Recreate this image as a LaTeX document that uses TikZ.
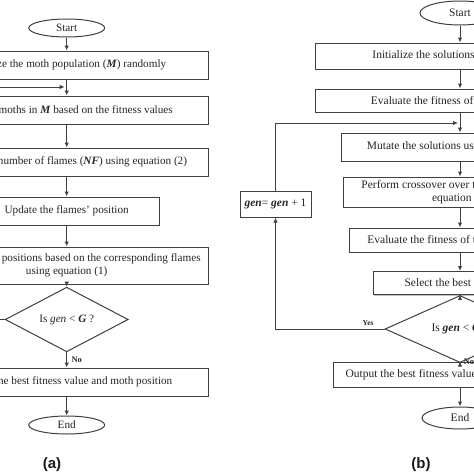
\documentclass[tikz,border=0pt]{standalone}
\usepackage{fontspec}
\setmainfont{Liberation Serif}
\newfontfamily\labfont{Liberation Sans}
\usetikzlibrary{arrows.meta,shapes.geometric,shadows}
\begin{document}
\begin{tikzpicture}[x=1pt,y=-1pt,
  line width=1pt,
  box/.style={rectangle,draw=black!75,fill=white,inner sep=1pt,align=center,
    font=\fontsize{11.2}{12.5}\selectfont,text=black!85,
    drop shadow={shadow xshift=1.2pt,shadow yshift=-1.2pt,fill=black!25,opacity=1}},
  term/.style={ellipse,draw=black!75,fill=white,inner sep=0pt,
    font=\fontsize{11.2}{12.5}\selectfont,text=black!85},
  dec/.style={diamond,draw=black!75,fill=white,inner sep=0pt,
    font=\fontsize{11.2}{12.5}\selectfont,text=black!85},
  bigf/.style={font=\fontsize{11.5}{13}\selectfont},
  arr/.style={draw=black!75,-{Latex[length=5pt,width=4.5pt]}},
  lbl/.style={font=\bfseries\fontsize{8.5}{9}\selectfont,text=black!85},
  captxt/.style={font=\labfont\bfseries\fontsize{15}{17}\selectfont,text=black!90}]
\useasboundingbox (0,0) rectangle (474,474);
\clip (0,0) rectangle (474,474);
% ---------------- (a) ----------------
\node[term,minimum width=76,minimum height=18] (aS) at (66.7,28) {Start};
\node[box,minimum width=282.6,minimum height=28] (a1) at (66.7,65) {Initialize the moth population (\textbf{\textit{M}}) randomly};
\node[box,minimum width=282.6,minimum height=28] (a2) at (66.7,110) {Sort the moths in \textbf{\textit{M}} based on the fitness values};
\node[box,minimum width=282.6,minimum height=28] (a3) at (66.7,162) {Update the number of flames (\textbf{\textit{NF}}) using equation (2)};
\node[box,minimum width=184.6,minimum height=28] (a4) at (66.7,211) {Update the flames' position};
\node[box,minimum width=282.6,minimum height=37] (a5) at (66.7,265.5) {Update moths' positions based on the corresponding flames\\using equation (1)};
\node[dec,minimum width=123,minimum height=39] (aD) at (66.7,319.5) {Is \textit{gen} < \textbf{\textit{G}} ?};
\node[box,minimum width=282.6,minimum height=28] (a6) at (66.7,382) {Output the best fitness value and moth position};
\node[term,minimum width=76,minimum height=18] (aE) at (66.7,425) {End};
\coordinate (aJ) at (66.7,87);
\coordinate (aL1) at (-90,319.5);
\coordinate (aL2) at (-90,87);
\draw[arr] (aS) -- (a1);
\draw[arr] (a1) -- (a2);
\draw[arr] (a2) -- (a3);
\draw[arr] (a3) -- (a4);
\draw[arr] (a4) -- (a5);
\draw[arr] (a5) -- (aD);
\draw[arr] (aD) -- node[lbl,right,pos=0.5,xshift=1pt]{No} (a6);
\draw[arr] (a6) -- (aE);
\draw[arr] (aD.west) -- (aL1) -- (aL2) -- ([xshift=-2pt]aJ);
\node[captxt] (capa) at (52,465) {(a)};
% ---------------- (b) ----------------
\node[term,bigf,minimum width=80,minimum height=24] (bS) at (460,13) {Start};
\node[box,bigf,minimum width=290,minimum height=26] (b1) at (460,56) {Initialize the solutions (\textbf{\textit{NP}}) randomly};
\node[box,bigf,minimum width=290,minimum height=23] (b2) at (460,100.5) {Evaluate the fitness of all the solutions};
\node[box,bigf,minimum width=238,minimum height=28] (b3) at (460,147) {Mutate the solutions using equation (12)};
\node[box,bigf,minimum width=234,minimum height=30] (b4) at (460,192) {Perform crossover over the solutions using\\equation (4)};
\node[box,bigf,minimum width=222,minimum height=24] (b5) at (460,240) {Evaluate the fitness of the trial solutions};
\node[box,bigf,minimum width=174,minimum height=23] (b6) at (460,283) {Select the best solutions};
\node[dec,bigf,minimum width=150,minimum height=38] (bD) at (460,329) {Is \textbf{\textit{gen}} < \textbf{\textit{G}} ?};
\node[box,bigf,minimum width=254,minimum height=25] (b7) at (460,374.5) {Output the best fitness value and the best solution};
\node[term,bigf,minimum width=76,minimum height=22] (bE) at (460,418) {End};
\node[box,bigf,minimum width=71,minimum height=26] (bG) at (275.5,204) {\textbf{\textit{gen}}= \textbf{\textit{gen}} + 1};
\coordinate (bJ) at (460,123);
\coordinate (bL1) at (275.5,329);
\coordinate (bL2) at (275.5,123);
\draw[arr] (bS) -- (b1);
\draw[arr] (b1) -- (b2);
\draw[arr] (b2) -- (b3);
\draw[arr] (b3) -- (b4);
\draw[arr] (b4) -- (b5);
\draw[arr] (b5) -- (b6);
\draw[arr] (b6) -- (bD);
\draw[arr] (bD) -- node[lbl,right,pos=0.55,xshift=0pt]{No} (b7);
\draw[arr] (b7) -- (bE);
\draw[arr] (bD.west) -- node[lbl,above,pos=0.15,font=\bfseries\fontsize{7.5}{8}\selectfont]{Yes} (bL1) -- (bG.south);
\draw[arr] (bG.north) -- (bL2) -- ([xshift=-2pt]bJ);
\node[captxt] (capb) at (421,465) {(b)};
\end{tikzpicture}
\end{document}
